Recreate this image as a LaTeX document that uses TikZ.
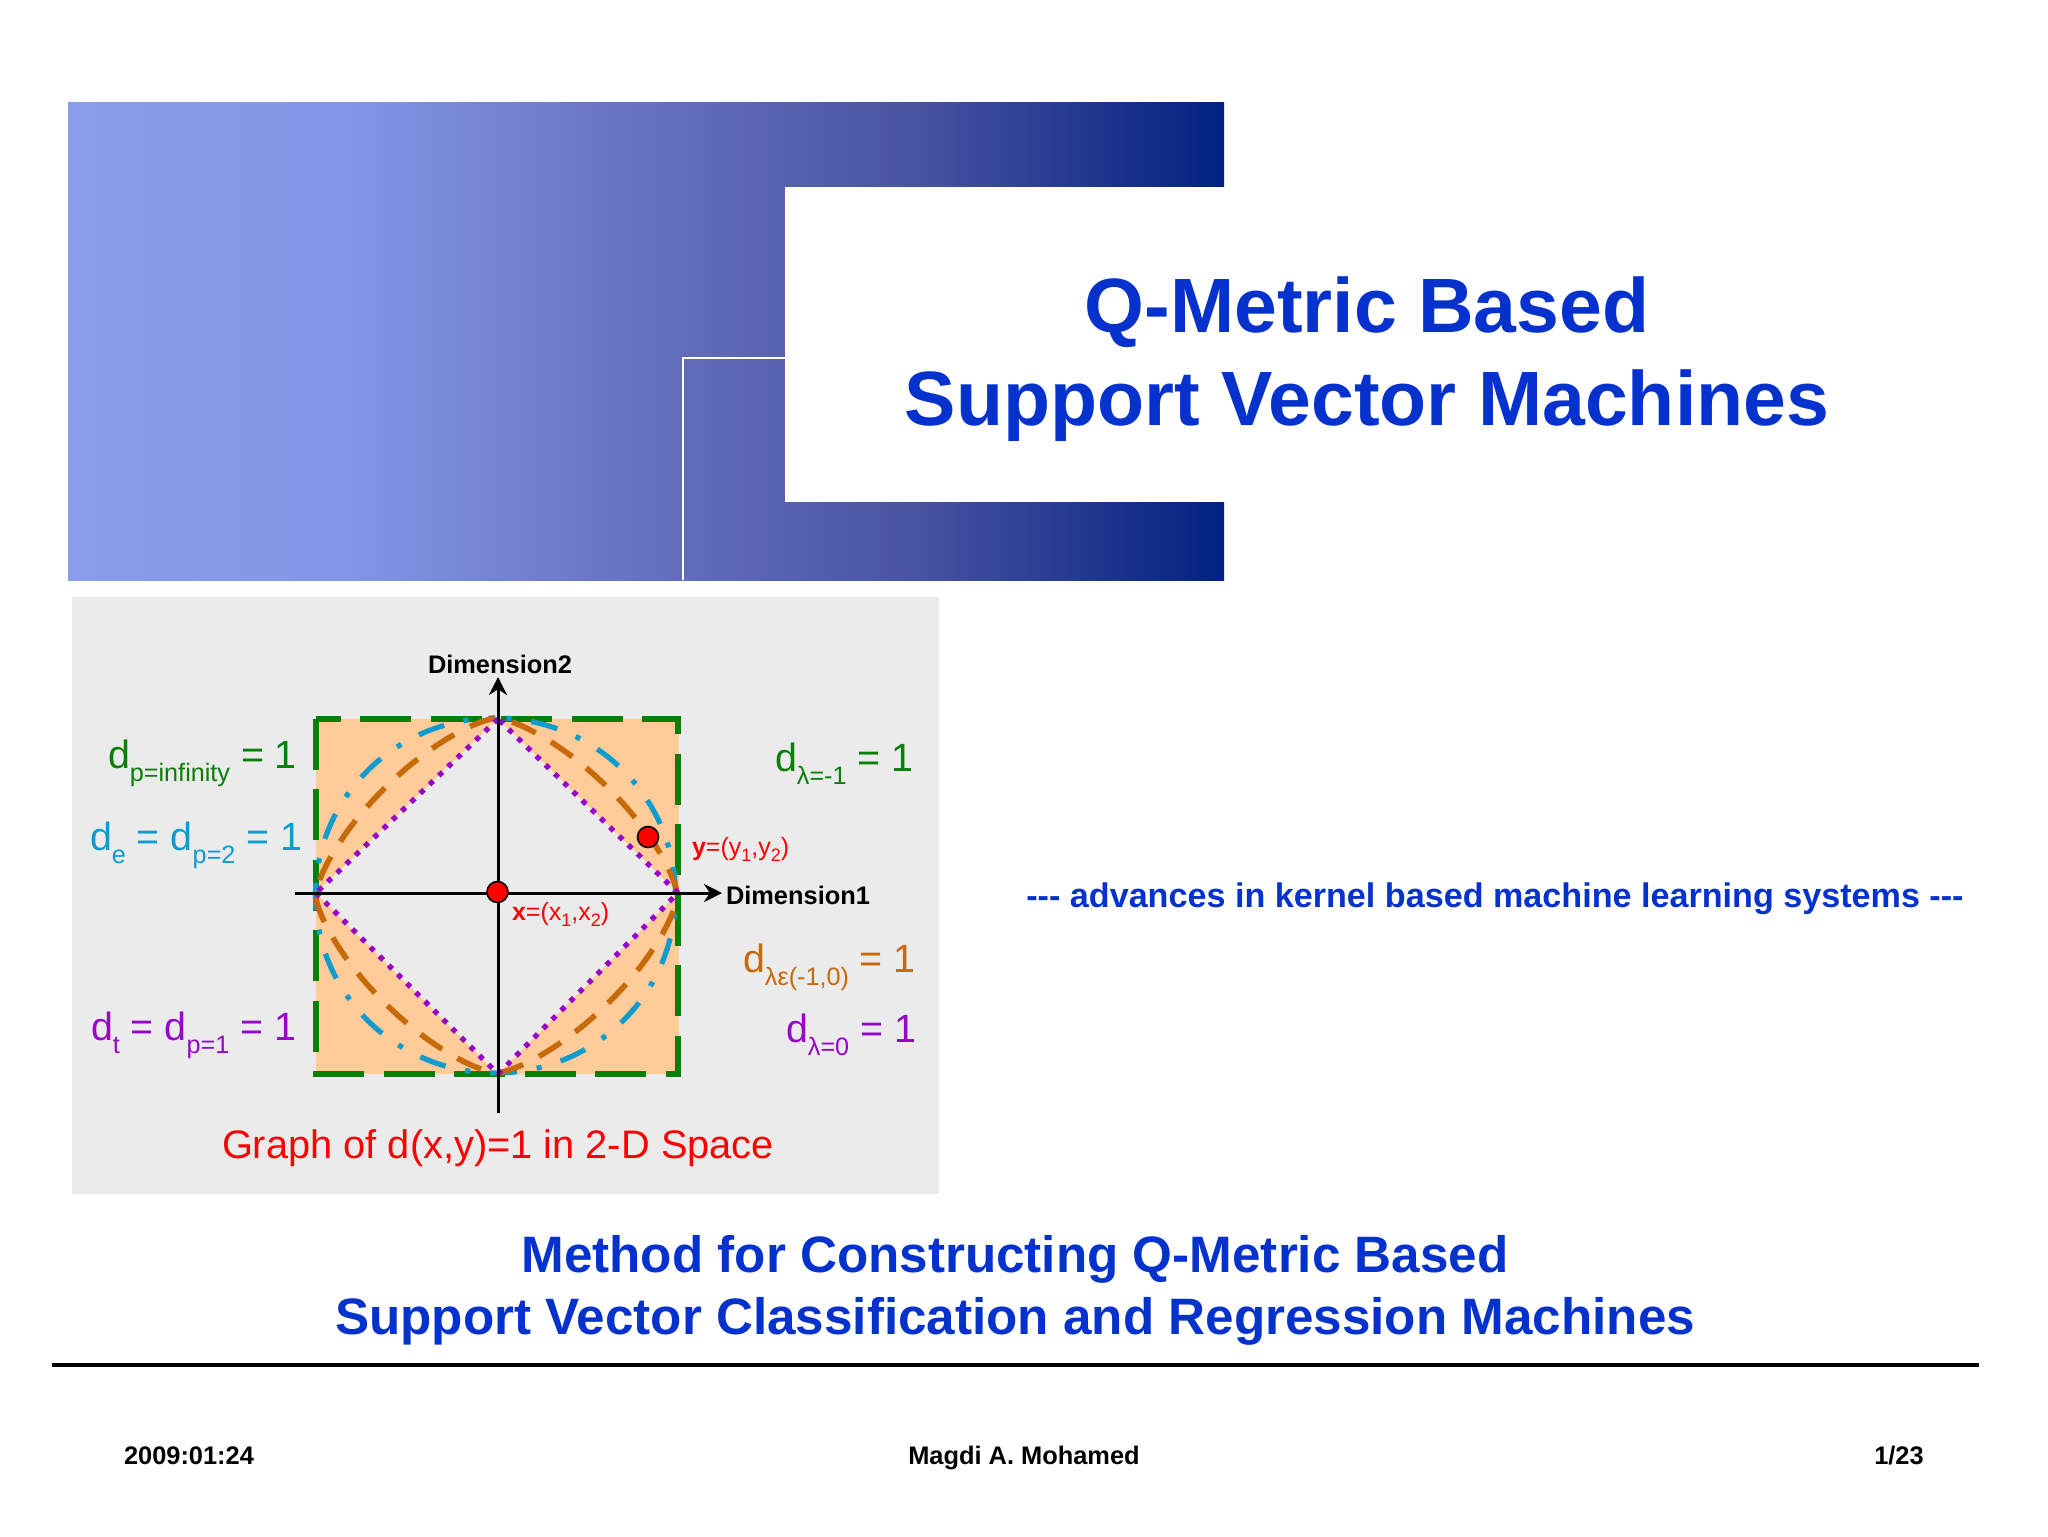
\documentclass[tikz,border=0pt]{standalone}
\usepackage{fontspec}
\setmainfont{Liberation Sans}
\usetikzlibrary{arrows.meta}
\definecolor{ttl}{RGB}{5,50,205}
\definecolor{cgreen}{RGB}{8,128,8}
\definecolor{cblue}{RGB}{15,155,205}
\definecolor{cpurple}{RGB}{150,5,200}
\definecolor{corange}{RGB}{200,105,10}
\definecolor{cfill}{RGB}{255,204,153}
\definecolor{cpanel}{RGB}{235,235,236}
\pgfdeclarehorizontalshading{bannershade}{100bp}{
 rgb(0bp)=(.537,.612,.914);
 rgb(25bp)=(.537,.612,.914);
 rgb(37bp)=(.51,.59,.90);
 rgb(50bp)=(.40,.44,.75);
 rgb(62bp)=(.28,.32,.63);
 rgb(75bp)=(0,.13,.50);
 rgb(100bp)=(0,.13,.50)}
\newcommand{\sbs}[1]{\raisebox{-0.33em}{\fontsize{12.6}{14}\selectfont #1}}
\newcommand{\ssb}[1]{\raisebox{-0.25em}{\fontsize{9}{10}\selectfont #1}}
\tikzset{
 txt/.style={inner sep=0pt,outer sep=0pt,anchor=base west},
 lab/.style={txt,font=\fontsize{19.7}{24}\selectfont},
 title/.style={inner sep=0pt,anchor=base,text=ttl,font=\fontsize{38.5}{40}\bfseries\selectfont},
 sub/.style={inner sep=0pt,anchor=base,text=ttl,font=\fontsize{25.6}{30}\bfseries\selectfont},
 foot/.style={inner sep=0pt,anchor=base,font=\fontsize{12.7}{14}\bfseries\selectfont},
 axis/.style={draw=black,line width=1.5pt,-{Stealth[length=9pt,width=9pt]}},
 pt/.style={circle,draw=black,fill=red,line width=0.8pt,inner sep=0pt,minimum size=10.5pt},
 dim/.style={txt,font=\fontsize{12.7}{14}\bfseries\selectfont},
 pl/.style={txt,text=red,font=\fontsize{12.5}{14}\selectfont},
 dots/.style={cpurple,line width=2.6pt,dash pattern=on 2.6pt off 3.8pt},
}
\begin{document}
\begin{tikzpicture}[x=0.5pt,y=-0.5pt]
\useasboundingbox (0,0) rectangle (2048,1536);
% banner
\shade[shading=bannershade] (68,102.5) rectangle (1224,580);
\fill[white] (785,187) rectangle (1227,502);
\draw[white,line width=1pt] (785,358) -| (683,580);
\node[title] (t1) at (1367,332) {Q-Metric Based};
\node[title] (t2) at (1367,425) {Support Vector Machines};
% panel
\fill[cpanel] (72,597) rectangle (939,1194);
\fill[cfill] (316,719) rectangle (679,1074);
\coordinate (vt) at (498,719);
\coordinate (vr) at (678,893);
\coordinate (vb) at (498,1074);
\coordinate (vl) at (316,893);
\fill[cpanel] (vt) -- (vr) -- (vb) -- (vl) -- cycle;
% green square
\draw[cgreen,line width=3pt,dash pattern=on 25.5pt off 9.725pt,dash phase=13pt]
  (316,719) -- (678,719) -- (678,1074) -- (316,1074) -- (316,719);
% blue: continuous clockwise from the top
\draw[cblue,line width=2.6pt,dash pattern=on 13.5pt off 10pt on 2.5pt off 10pt,dash phase=18pt]
  plot[smooth,domain=90:-270,samples=145,variable=\t]
  ({495.5+180*cos(\t)},{895.5-177.5*sin(\t)});
% orange: four superelliptic quadrants, counter-clockwise
\foreach \a/\b in {90/180,180/270,270/360,360/450}{
 \draw[corange,line width=2.8pt,dash pattern=on 13pt off 8.9pt,dash phase=-1pt]
  plot[smooth,domain=\a:\b,samples=40,variable=\t]
  ({496.5+181*sign(cos(\t))*pow(abs(cos(\t)),1.42)},{895.5-177.5*sign(sin(\t))*pow(abs(sin(\t)),1.42)});
}
% purple diamond
\draw[dots] (vt) -- (vl);
\draw[dots] (vl) -- (vb);
\draw[dots] (vb) -- (vr);
\draw[dots] (vr) -- (vt);
% axes
\coordinate (xa) at (295,893);
\coordinate (xb) at (722,893);
\coordinate (ya) at (498,1113);
\coordinate (yb) at (498,677);
\draw[axis] (xa) -- (xb);
\draw[axis] (ya) -- (yb);
\node[pt] (px) at (497.5,892) {};
\node[pt] (py) at (648,837) {};
% labels
\node[dim] (d2) at (428,673) {Dimension2};
\node[dim] (d1) at (726,904) {Dimension1};
\node[pl] (lx) at (512,920) {\textbf{x}=(x\ssb{1},x\ssb{2})};
\node[pl] (ly) at (692,855) {\textbf{y}=(y\ssb{1},y\ssb{2})};
\node[lab,text=cgreen] (l1) at (108,768) {d\sbs{p=infinity} = 1};
\node[lab,text=cblue] (l2) at (90,850) {d\sbs{e} = d\sbs{p=2} = 1};
\node[lab,text=cpurple] (l3) at (91,1040) {d\sbs{t} = d\sbs{p=1} = 1};
\node[lab,text=cgreen] (l4) at (775,771) {d\sbs{λ=-1} = 1};
\node[lab,text=corange] (l5) at (743,972) {d\sbs{λε(-1,0)} = 1};
\node[lab,text=cpurple] (l6) at (786,1042) {d\sbs{λ=0} = 1};
\node[lab,text=red,font=\fontsize{19.9}{24}\selectfont] (gr) at (222,1158) {Graph of d(x,y)=1 in 2-D Space};
% other text
\node[inner sep=0pt,anchor=base,text=ttl,font=\fontsize{17.07}{20}\bfseries\selectfont] (adv) at (1495,907) {-{}-{}- advances in kernel based machine learning systems -{}-{}-};
\node[sub] (s1) at (1015,1272) {Method for Constructing Q-Metric Based};
\node[sub] (s2) at (1015,1334) {Support Vector Classification and Regression Machines};
\coordinate (ra) at (52,1365);
\coordinate (rb) at (1979,1365);
\draw[black,line width=2pt] (ra) -- (rb);
\node[foot] (f1) at (189,1464) {2009:01:24};
\node[foot] (f2) at (1024,1464) {Magdi A. Mohamed};
\node[foot] (f3) at (1899,1464) {1/23};
\end{tikzpicture}
\end{document}
